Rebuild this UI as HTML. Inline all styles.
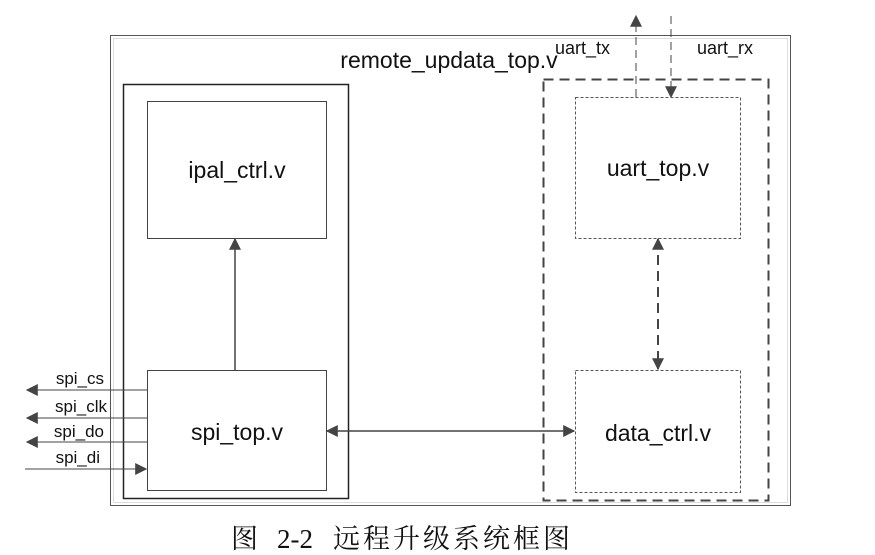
<!DOCTYPE html>
<html><head><meta charset="utf-8"><style>body{margin:0;background:#fff}svg{display:block}</style></head><body>
<svg width="875" height="555" viewBox="0 0 875 555" xmlns="http://www.w3.org/2000/svg" font-family="'Liberation Sans','Noto Sans CJK SC',sans-serif">
<defs>
<marker id="b" viewBox="0 0 10 10" refX="9" refY="5" markerWidth="12" markerHeight="12" markerUnits="userSpaceOnUse" orient="auto-start-reverse"><path d="M0,0 L10,5 L0,10 Z" fill="#444"/></marker>
</defs>
<rect x="110.5" y="35.5" width="680" height="470" fill="none" stroke="#555" stroke-width="1"/>
<rect x="113.5" y="38.5" width="674" height="464" fill="none" stroke="#ddd" stroke-width="1"/>
<text x="449" y="68" font-size="23" text-anchor="middle" fill="#111">remote_updata_top.v</text>
<rect x="123.5" y="84.5" width="225" height="414" fill="none" stroke="#222" stroke-width="1.5"/>
<rect x="543.5" y="79.5" width="225" height="421" fill="none" stroke="#444" stroke-width="2" stroke-dasharray="10,6"/>
<rect x="147.5" y="101.5" width="179" height="137" fill="#fff" stroke="#444"/>
<text x="237" y="178" font-size="23" text-anchor="middle" fill="#111">ipal_ctrl.v</text>
<rect x="147.5" y="370.5" width="179" height="120" fill="#fff" stroke="#444"/>
<text x="237" y="440" font-size="23" text-anchor="middle" fill="#111">spi_top.v</text>
<rect x="575.5" y="97.5" width="165" height="141" fill="#fff" stroke="#555" stroke-dasharray="3,2"/>
<text x="658" y="176" font-size="23" text-anchor="middle" fill="#111">uart_top.v</text>
<rect x="575.5" y="370.5" width="165" height="122" fill="#fff" stroke="#555" stroke-dasharray="3,2"/>
<text x="658" y="441" font-size="23" text-anchor="middle" fill="#111">data_ctrl.v</text>
<line x1="235" y1="370" x2="235" y2="239" stroke="#444" stroke-width="1.5" marker-end="url(#b)"/>
<line x1="327" y1="431" x2="574" y2="431" stroke="#444" stroke-width="1.5" marker-start="url(#b)" marker-end="url(#b)"/>
<line x1="658" y1="239" x2="658" y2="369" stroke="#444" stroke-width="2" stroke-dasharray="10,6" marker-start="url(#b)" marker-end="url(#b)"/>
<line x1="636" y1="97" x2="636" y2="16" stroke="#444" stroke-width="1" stroke-dasharray="8,5" marker-end="url(#b)"/>
<line x1="671" y1="16" x2="671" y2="97" stroke="#444" stroke-width="1" stroke-dasharray="8,5" marker-end="url(#b)"/>
<text x="555" y="54" font-size="18" fill="#111">uart_tx</text>
<text x="697" y="54" font-size="18" fill="#111">uart_rx</text>
<g stroke="#444" stroke-width="1">
<line x1="147" y1="390" x2="27" y2="390" marker-end="url(#b)"/>
<line x1="147" y1="418" x2="27" y2="418" marker-end="url(#b)"/>
<line x1="147" y1="442" x2="27" y2="442" marker-end="url(#b)"/>
<line x1="25" y1="469" x2="146" y2="469" marker-end="url(#b)"/>
</g>
<g font-size="17" fill="#111" text-anchor="end">
<text x="104" y="384">spi_cs</text>
<text x="107" y="412">spi_clk</text>
<text x="104" y="437">spi_do</text>
<text x="100" y="463">spi_di</text>
</g>
<g font-size="27" fill="#111" font-family="'Liberation Serif','Noto Serif CJK SC',serif">
<text x="231" y="548">图</text>
<text x="277" y="548">2-2</text>
<text x="333" y="548" letter-spacing="3">远程升级系统框图</text>
</g>
</svg>
</body></html>
